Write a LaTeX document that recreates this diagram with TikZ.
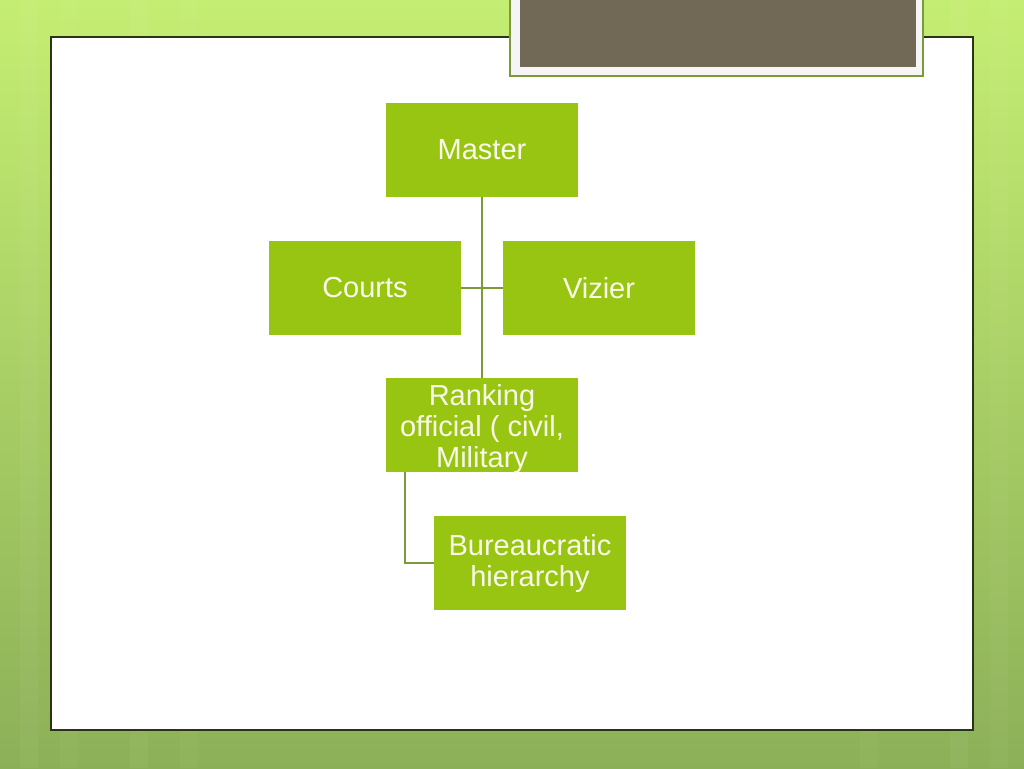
\documentclass[tikz,border=0pt]{standalone}
\usepackage{fontspec}
\setmainfont{Liberation Sans}
\definecolor{boxgreen}{RGB}{152,196,18}
\definecolor{linegreen}{RGB}{125,154,58}
\definecolor{bgtop}{RGB}{196,238,114}
\definecolor{bgbot}{RGB}{140,176,88}
\definecolor{panelborder}{RGB}{40,52,20}
\definecolor{brown}{RGB}{113,104,86}
\definecolor{txt}{RGB}{250,250,235}
\begin{document}
\begin{tikzpicture}[x=1pt,y=-1pt,
  orgbox/.style={draw=none,fill=boxgreen,minimum width=192pt,minimum height=94pt,
    text=txt,font=\fontsize{29}{31}\selectfont,align=center,inner sep=2pt},
  conn/.style={draw=linegreen,line width=1.6pt}]
\useasboundingbox (0,0) rectangle (1024,768);
\shade[top color=bgtop,bottom color=bgbot] (0,0) rectangle (1024,768);
\foreach \xx/\op in {20/0.04,60/0.03,130/0.04,180/0.03,860/0.03,950/0.04,990/0.03}
  \fill[white,opacity=\op] (\xx,0) rectangle ++(18,768);
\draw[panelborder,line width=1.3pt,fill=white] (51,37) rectangle (973,730);
\draw[linegreen,line width=1.5pt,fill=white!96!black] (510,-2) rectangle (923,76);
\fill[brown] (520,-2) rectangle (916,67);
\node[orgbox] (master) at (482,150) {Master};
\node[orgbox] (courts) at (365,288) {Courts};
\node[orgbox] (vizier) at (599,288) {Vizier};
\node[orgbox] (rank) at (482,425) {\raisebox{-4pt}[\height][\depth]{\parbox{186pt}{\centering Ranking\\official ( civil,\\Military}}};
\node[orgbox] (bur) at (530,563) {Bureaucratic\\hierarchy};
\draw[conn] (master.south) -- (rank.north);
\draw[conn] (courts.east) -- (vizier.west);
\coordinate (bend) at (405,472);
\draw[conn] (bend) |- (bur.west);
\end{tikzpicture}
\end{document}
